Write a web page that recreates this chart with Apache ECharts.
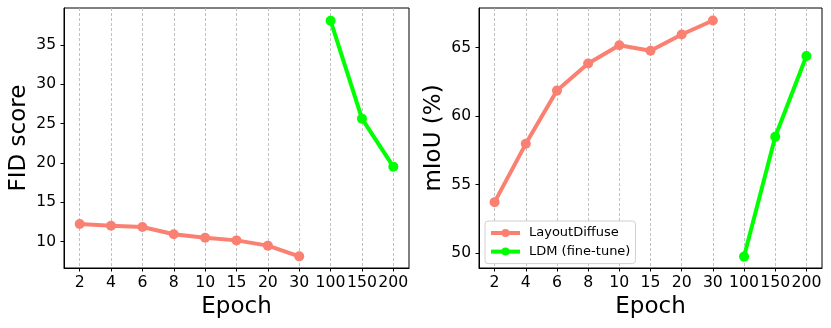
<!DOCTYPE html>
<html>
<head>
<meta charset="utf-8">
<script src="https://cdn.jsdelivr.net/npm/echarts@6/dist/echarts.min.js"></script>
<style>html,body{margin:0;padding:0;background:#fff}#c{width:831px;height:328px}</style>
</head>
<body>
<div id="c"></div>
<script>
var epochs = ['2','4','6','8','10','15','20','30','100','150','200'];
var fidLayoutDiffuse = [12.25, 12.03, 11.87, 10.94, 10.5, 10.17, 9.5, 8.14, null, null, null];
var fidLDM = [null, null, null, null, null, null, null, null, 38.09, 25.64, 19.54];
var miouLayoutDiffuse = [53.73, 57.98, 61.86, 63.83, 65.17, 64.76, 65.95, 66.97, null, null, null];
var miouLDM = [null, null, null, null, null, null, null, null, 49.76, 58.5, 64.38];
var fidTicks = [10, 15, 20, 25, 30, 35];
var miouTicks = [50, 55, 60, 65];

var FONT = 'DejaVu Sans';
var C1 = '#FA8072', C2 = '#00FF00';

function xAxis(gi) {
  return {
    type: 'category', gridIndex: gi, data: epochs, boundaryGap: true,
    name: 'Epoch', nameLocation: 'middle', nameGap: 24,
    nameTextStyle: {fontFamily: FONT, fontSize: 23, color: '#000'},
    axisLine: {show: true, lineStyle: {color: '#000', width: 1}},
    axisTick: {show: true, alignWithLabel: true, length: 3.5, lineStyle: {color: '#000'}},
    axisLabel: {fontFamily: FONT, fontSize: 15.7, color: '#000', margin: 7, interval: 0},
    splitLine: {show: true, alignWithLabel: true, lineStyle: {color: '#b0b0b0', type: [3, 2], width: 0.8}}
  };
}
function yAxis(gi, name, min, max, ticks) {
  return {
    type: 'value', gridIndex: gi, min: min, max: max,
    name: name, nameLocation: 'middle', nameGap: 33,
    nameTextStyle: {fontFamily: FONT, fontSize: 23, color: '#000'},
    axisLine: {show: true, lineStyle: {color: '#000', width: 1}},
    axisTick: {show: true, length: 3.5, customValues: ticks, lineStyle: {color: '#000'}},
    axisLabel: {fontFamily: FONT, fontSize: 15.5, color: '#000', margin: 8, customValues: ticks},
    splitLine: {show: false}
  };
}
function series(name, gi, data, color) {
  return {
    name: name, type: 'line', xAxisIndex: gi, yAxisIndex: gi, data: data,
    connectNulls: false, symbol: 'circle', symbolSize: 10, showSymbol: true,
    lineStyle: {color: color, width: 4}, itemStyle: {color: color},
    animation: false
  };
}
var chart = echarts.init(document.getElementById('c'), null, {renderer: 'canvas'});
chart.setOption({
  animation: false,
  grid: [
    {left: 64, right: 422, top: 8, bottom: 60, show: true, borderColor: '#000', borderWidth: 1},
    {left: 479, right: 9, top: 8, bottom: 60, show: true, borderColor: '#000', borderWidth: 1}
  ],
  xAxis: [xAxis(0), xAxis(1)],
  yAxis: [yAxis(0, 'FID score', 6.66, 39.7, fidTicks), yAxis(1, 'mIoU (%)', 48.93, 67.88, miouTicks)],
  legend: {
    orient: 'vertical', left: 485, top: 221,
    data: ['LayoutDiffuse', 'LDM (fine-tune)'],
    backgroundColor: '#fff', borderColor: '#d0d0d0', borderWidth: 1, borderRadius: 3,
    padding: [5, 5, 5, 4], itemGap: 4.6, itemWidth: 29, itemHeight: 10,
    lineStyle: {width: 4},
    textStyle: {fontFamily: FONT, fontSize: 13, color: '#000', padding: [0, 0, 0, 4], lineHeight: 14}
  },
  series: [
    series('LayoutDiffuse', 0, fidLayoutDiffuse, C1),
    series('LDM (fine-tune)', 0, fidLDM, C2),
    series('LayoutDiffuse', 1, miouLayoutDiffuse, C1),
    series('LDM (fine-tune)', 1, miouLDM, C2)
  ]
});
</script>
</body>
</html>
